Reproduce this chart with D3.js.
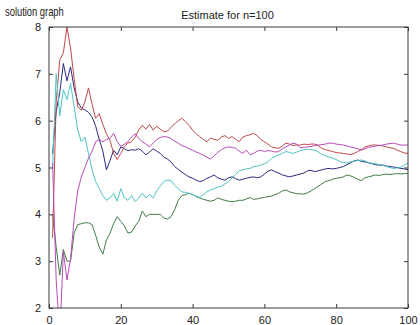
<!DOCTYPE html>
<html><head><meta charset="utf-8">
<script src="https://cdn.jsdelivr.net/npm/d3@7"></script>
<style>body{margin:0;background:#fff}svg{display:block}</style>
</head><body>
<script>
const xTicks=[0,20,40,60,80,100];
const yTicks=[2,3,4,5,6,7,8];
const title="Estimate for n=100";
const yLabel="solution graph";
const steps=[1,2,3,4,5,6,7,8,9,10,11,12,13,14,15,16,17,18,19,20,21,22,23,24,25,26,27,28,29,30,31,32,33,34,35,36,37,38,39,40,41,42,43,44,45,46,47,48,49,50,51,52,53,54,55,56,57,58,59,60,61,62,63,64,65,66,67,68,69,70,71,72,73,74,75,76,77,78,79,80,81,82,83,84,85,86,87,88,89,90,91,92,93,94,95,96,97,98,99,100];
const blue=[5.3,6.2,6.6,7.22,6.85,7.15,6.7,6.4,6.27,6.23,6.18,6.08,5.88,5.6,5.35,4.95,5.15,5.37,5.27,5.44,5.4,5.36,5.38,5.37,5.4,5.35,5.27,5.33,5.4,5.35,5.3,5.22,5.18,5.12,5.02,4.96,4.9,4.85,4.8,4.77,4.73,4.7,4.72,4.77,4.8,4.84,4.78,4.75,4.73,4.78,4.8,4.76,4.73,4.75,4.77,4.79,4.8,4.78,4.8,4.86,4.92,4.95,4.91,4.88,4.84,4.82,4.8,4.82,4.84,4.86,4.88,4.93,4.94,4.91,4.93,4.95,4.97,4.98,4.97,4.98,5.0,5.02,5.06,5.1,5.14,5.16,5.13,5.12,5.1,5.08,5.06,5.05,5.05,5.03,5.02,5.01,5.0,4.98,4.97,4.95];
const green=[4.0,3.3,2.7,3.25,3.0,3.0,3.6,3.78,3.8,3.82,3.82,3.78,3.55,3.3,3.15,3.45,3.6,3.8,3.95,3.85,3.75,3.6,3.62,3.75,3.85,4.07,3.95,4.0,4.0,4.0,4.0,3.92,3.9,3.95,4.1,4.3,4.4,4.42,4.45,4.42,4.38,4.35,4.32,4.3,4.28,4.3,4.35,4.32,4.3,4.28,4.27,4.28,4.3,4.3,4.33,4.36,4.32,4.33,4.35,4.36,4.38,4.39,4.42,4.45,4.5,4.52,4.48,4.46,4.44,4.44,4.43,4.46,4.5,4.55,4.6,4.65,4.7,4.72,4.75,4.77,4.78,4.8,4.84,4.82,4.79,4.75,4.72,4.78,4.8,4.82,4.84,4.83,4.85,4.86,4.85,4.86,4.87,4.86,4.87,4.87];
const red=[3.5,6.4,7.3,7.45,8.0,7.55,6.9,6.3,6.22,6.4,6.7,6.35,6.05,6.15,5.92,5.72,5.58,5.3,5.17,5.3,5.45,5.52,5.55,5.65,5.8,5.9,5.82,5.92,5.8,5.88,5.82,5.76,5.78,5.86,5.93,6.0,6.05,5.98,5.9,5.8,5.72,5.66,5.6,5.55,5.63,5.6,5.58,5.65,5.68,5.62,5.66,5.6,5.55,5.65,5.68,5.7,5.73,5.68,5.6,5.55,5.5,5.44,5.42,5.41,5.46,5.52,5.5,5.47,5.48,5.48,5.5,5.49,5.5,5.5,5.47,5.41,5.38,5.36,5.34,5.32,5.31,5.3,5.29,5.27,5.3,5.34,5.38,5.44,5.46,5.48,5.48,5.47,5.46,5.44,5.42,5.41,5.37,5.34,5.31,5.3];
const cyan=[5.0,7.0,6.1,6.66,6.45,6.8,6.3,5.8,5.55,5.65,5.3,4.95,4.7,4.55,4.4,4.3,4.35,4.45,4.28,4.55,4.35,4.3,4.4,4.27,4.35,4.45,4.35,4.42,4.35,4.5,4.6,4.7,4.73,4.72,4.62,4.55,4.48,4.47,4.45,4.42,4.38,4.36,4.42,4.48,4.52,4.55,4.58,4.6,4.65,4.7,4.78,4.85,4.93,4.95,4.97,4.98,5.02,5.03,5.05,5.08,5.12,5.2,5.23,5.27,5.3,5.34,5.32,5.3,5.33,5.36,5.38,5.39,5.38,5.37,5.33,5.28,5.25,5.22,5.2,5.17,5.13,5.1,5.1,5.12,5.13,5.15,5.16,5.14,5.1,5.09,5.08,5.06,5.05,5.02,5.0,4.98,4.99,5.01,5.05,5.1];
const magenta=[5.1,2.6,1.4,3.2,2.6,3.05,3.9,4.5,4.8,5.0,5.2,5.35,5.55,5.6,5.55,5.6,5.62,5.73,5.55,5.45,5.5,5.55,5.65,5.72,5.62,5.55,5.5,5.44,5.52,5.6,5.64,5.66,5.65,5.62,5.56,5.52,5.47,5.44,5.4,5.37,5.33,5.3,5.26,5.22,5.18,5.25,5.32,5.38,5.42,5.44,5.43,5.41,5.35,5.3,5.37,5.27,5.3,5.35,5.37,5.34,5.36,5.35,5.33,5.34,5.4,5.44,5.48,5.52,5.5,5.42,5.43,5.44,5.45,5.47,5.48,5.49,5.5,5.52,5.52,5.5,5.49,5.48,5.46,5.44,5.42,5.4,5.37,5.4,5.43,5.44,5.46,5.47,5.48,5.5,5.51,5.52,5.5,5.48,5.48,5.48];
const seriesNames=["blue","green","red","cyan","magenta"];
const seriesValues=[blue,green,red,cyan,magenta];
const seriesColors=["#2a2a80","#3f7a45","#c04848","#4cc4c4","#b84cb8"];

const W=420,H=325;
const L=49,R=408,T=27,B=308;
const svg=d3.select("body").append("svg").attr("width",W).attr("height",H);
svg.append("rect").attr("width",W).attr("height",H).attr("fill","#fff");
const x=d3.scaleLinear().domain([0,100]).range([L,R]);
const y=d3.scaleLinear().domain([2,8]).range([B,T]);

svg.append("defs").append("clipPath").attr("id","clip").append("rect")
  .attr("x",L).attr("y",T).attr("width",R-L).attr("height",B-T);

const g=svg.append("g").attr("clip-path","url(#clip)");
const line=d3.line().x((d,i)=>x(steps[i])).y(d=>y(d));
seriesValues.forEach((vals,k)=>{
  g.append("path").datum(vals).attr("d",line).attr("fill","none")
   .attr("stroke",seriesColors[k]).attr("stroke-width",1).attr("stroke-linejoin","round");
});

const font="'Liberation Sans', Arial, sans-serif";
const axColor="#3a3a3a";
svg.append("rect").attr("x",L).attr("y",T).attr("width",R-L).attr("height",B-T)
  .attr("fill","none").attr("stroke",axColor).attr("stroke-width",1);

const tk=4;
const fmt=d3.format("d");
const axB=d3.axisBottom(x).tickValues(xTicks).tickSize(-tk).tickPadding(tk+4).tickFormat(fmt);
const gb=svg.append("g").attr("transform",`translate(0,${B})`).call(axB);
const axT=d3.axisTop(x).tickValues(xTicks).tickSize(-tk).tickFormat("");
const gt=svg.append("g").attr("transform",`translate(0,${T})`).call(axT);
const axL=d3.axisLeft(y).tickValues(yTicks).tickSize(-tk).tickPadding(tk+4).tickFormat(fmt);
const gl=svg.append("g").attr("transform",`translate(${L},0)`).call(axL);
const axR=d3.axisRight(y).tickValues(yTicks).tickSize(-tk).tickFormat("");
const gr=svg.append("g").attr("transform",`translate(${R},0)`).call(axR);
[gb,gt,gl,gr].forEach(a=>{
  a.select(".domain").remove();
  a.selectAll("line").attr("stroke",axColor);
  a.selectAll("text").attr("fill","#222").style("font-family",font).style("font-size","11px");
});

svg.append("text").attr("x",(L+R)/2-1).attr("y",19).attr("text-anchor","middle")
  .style("font-family",font).style("font-size","11px").attr("fill","#222").text(title);
svg.append("text").attr("transform","translate(5,16) scale(0.78,1)")
  .style("font-family",font).style("font-size","12px")
  .attr("fill","#222").text(yLabel);
</script>
</body></html>
